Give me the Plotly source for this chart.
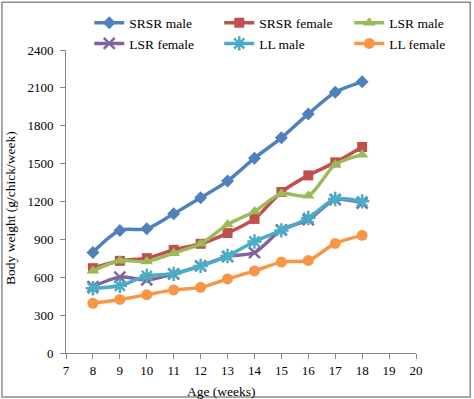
import plotly.graph_objects as go

weeks = [8, 9, 10, 11, 12, 13, 14, 15, 16, 17, 18]
srsr_male = [797, 971, 984, 1103, 1230, 1362, 1543, 1704, 1894, 2066, 2148]
srsr_female = [672, 730, 751, 817, 865, 950, 1062, 1275, 1407, 1510, 1632]
lsr_male = [651, 730, 725, 791, 865, 1018, 1121, 1262, 1246, 1492, 1571]
lsr_female = [526, 601, 579, 627, 690, 764, 796, 976, 1056, 1214, 1188]
ll_male = [513, 532, 611, 627, 690, 768, 883, 971, 1069, 1220, 1201]
ll_female = [394, 424, 462, 500, 520, 587, 650, 720, 733, 868, 932]

x_ticks = list(range(7, 21))
y_ticks = [0, 300, 600, 900, 1200, 1500, 1800, 2100, 2400]

series = [
    ("SRSR male", srsr_male, "#4F81BD", "diamond", 10, None),
    ("SRSR female", srsr_female, "#C0504D", "square", 10, None),
    ("LSR male", lsr_male, "#9BBB59", "triangle-up", 11, None),
    ("LSR female", lsr_female, "#8064A2", "x-thin-open", 11, 2.5),
    ("LL male", ll_male, "#4BACC6", "asterisk-open", 12, 2.5),
    ("LL female", ll_female, "#F79646", "circle", 11, None),
]

fig = go.Figure()
for name, vals, color, sym, size, lw in series:
    marker = dict(symbol=sym, size=size, color=color)
    if lw:
        marker["line"] = dict(color=color, width=lw)
    fig.add_trace(go.Scatter(
        x=weeks, y=vals, name=name, mode="lines+markers",
        line=dict(color=color, width=3.5, shape="spline", smoothing=0.8),
        marker=marker,
    ))

font = "Liberation Serif, Times New Roman, serif"
fig.update_layout(
    width=474, height=399,
    margin=dict(l=66, r=58, t=50, b=46, autoexpand=False),
    paper_bgcolor="white", plot_bgcolor="white",
    font=dict(family=font, size=13, color="black"),
    showlegend=True,
    legend=dict(orientation="h", x=-0.005, y=1.14, xanchor="left", yanchor="top",
                entrywidth=60, entrywidthmode="pixels", indentation=25,
                font=dict(family=font, size=13.5, color="black"),
                bgcolor="rgba(0,0,0,0)", itemwidth=30, tracegroupgap=0),
    xaxis=dict(range=[7, 20], tickvals=x_ticks, ticktext=[str(t) for t in x_ticks],
               showgrid=False, zeroline=False, showline=True, linecolor="#868686",
               linewidth=1, ticks="outside", ticklen=5, tickcolor="#868686",
               automargin=False, tickfont=dict(family=font, size=13)),
    yaxis=dict(range=[0, 2400], tickvals=y_ticks, showgrid=False, zeroline=False,
               showline=True, linecolor="#868686", linewidth=1, ticks="outside",
               ticklen=5, tickcolor="#868686", automargin=False, ticklabelstandoff=4,
               tickfont=dict(family=font, size=13)),
    annotations=[
        dict(text="Age (weeks)", xref="paper", yref="paper", x=0.443, y=-0.127,
             xanchor="center", yanchor="middle", showarrow=False,
             font=dict(family=font, size=13.5)),
        dict(text="Body weight (g/chick/week)", xref="paper", yref="paper",
             x=-0.157, y=0.479, xanchor="center", yanchor="middle", textangle=-90,
             showarrow=False, font=dict(family=font, size=13.5)),
    ],
    shapes=[dict(type="rect", xref="paper", yref="paper",
                 x0=-0.183, x1=1.155, y0=-0.145, y1=1.158,
                 line=dict(color="#8c8c8c", width=1.5), fillcolor="rgba(0,0,0,0)")],
)

fig.write_html("out.html", config={"displayModeBar": False},
               post_script="document.body.style.margin='0';document.body.style.overflow='hidden';")
